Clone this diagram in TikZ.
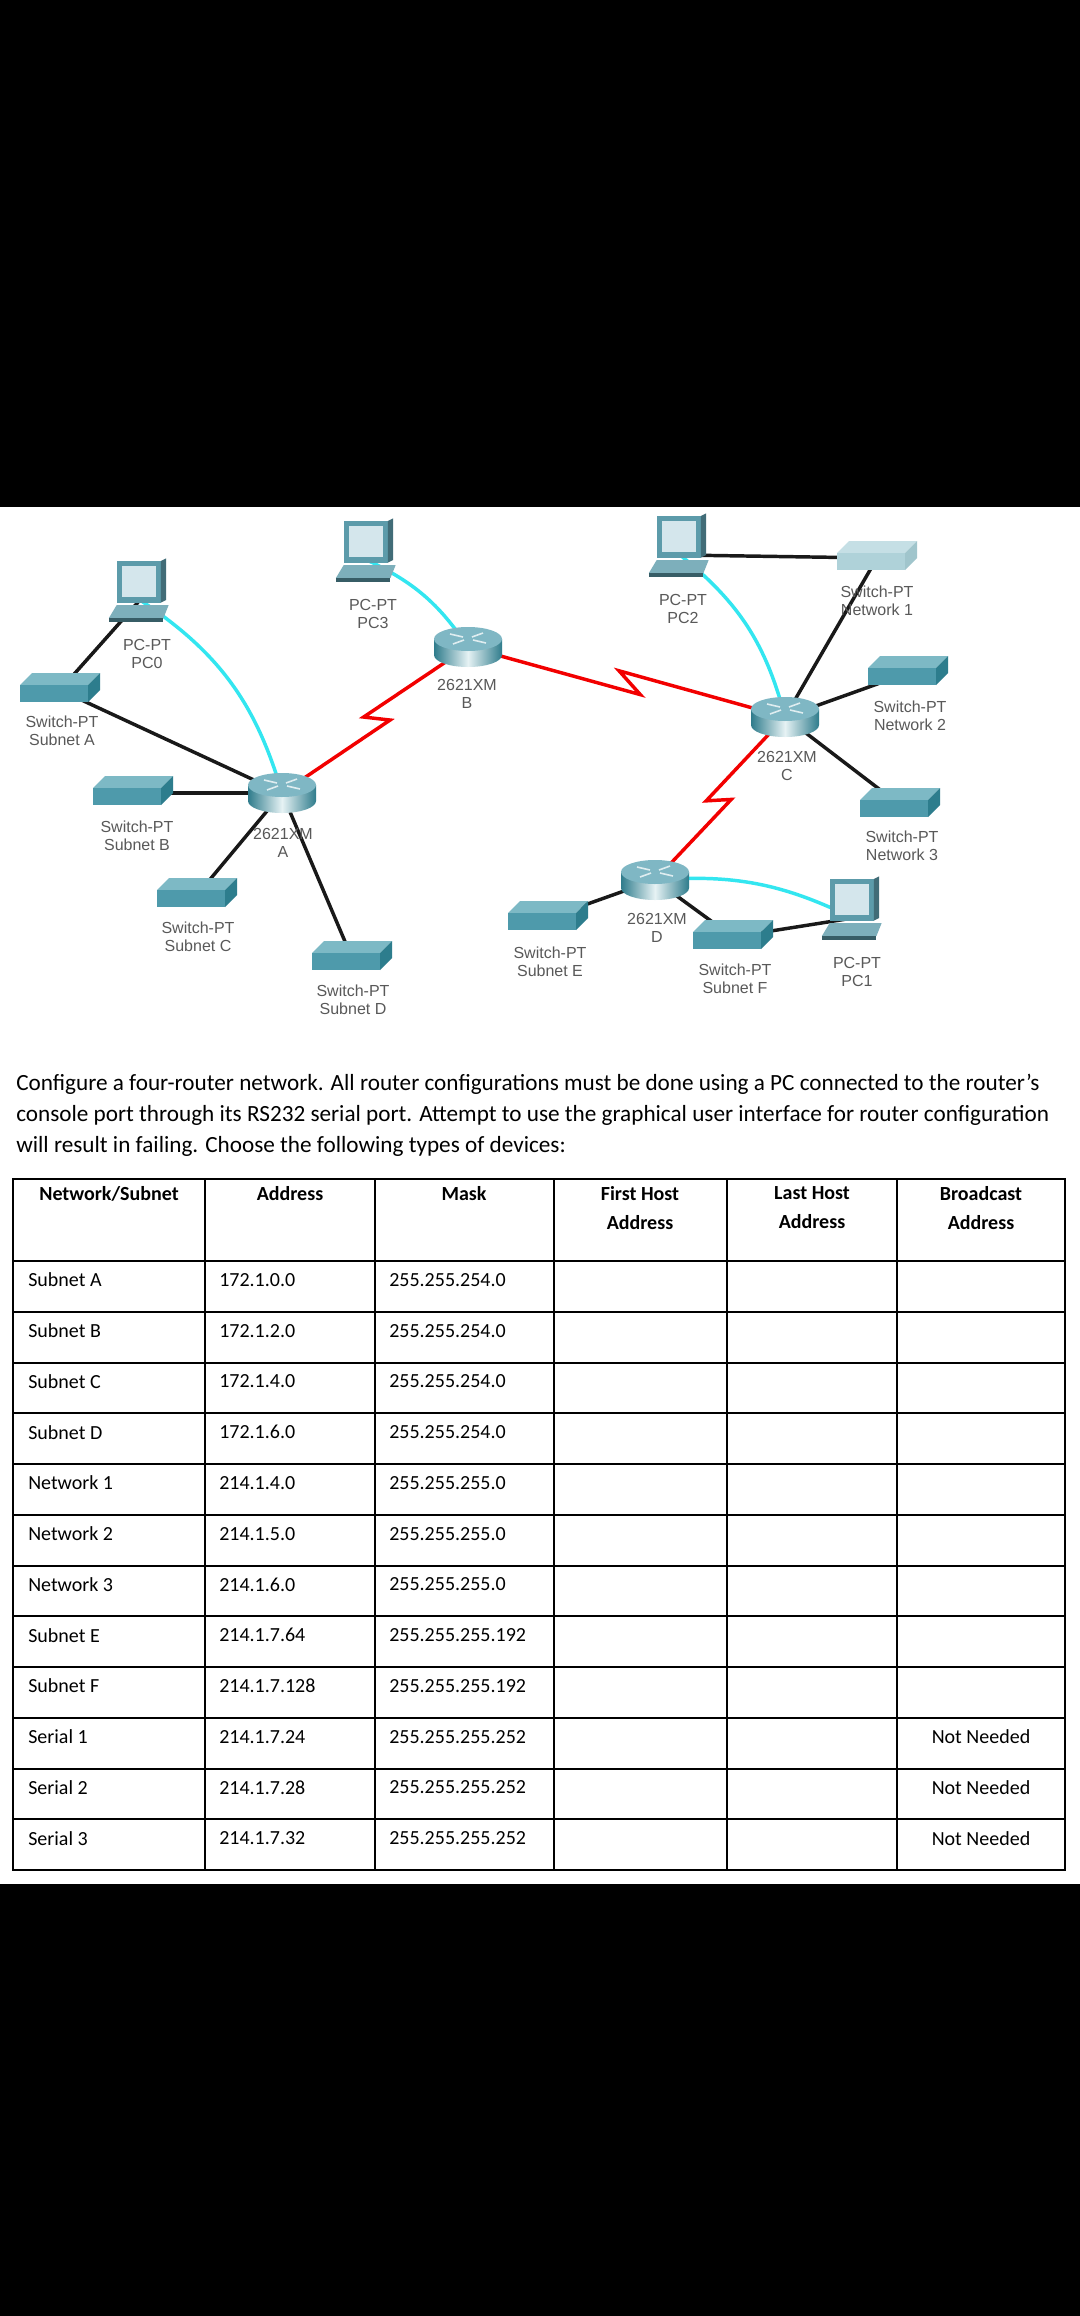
\documentclass[tikz,border=0pt]{standalone}
\usepackage{fontspec}
\setmainfont{Carlito}
\newfontfamily\ptfont{Liberation Sans}
\usetikzlibrary{calc}

\definecolor{rtdark}{HTML}{2F7C8C}
\definecolor{rtlight}{HTML}{E6F2F4}
\definecolor{rttop}{HTML}{7FB7C4}
\definecolor{swfront}{HTML}{4E9AAB}
\definecolor{swtop}{HTML}{7DB9C5}
\definecolor{swside}{HTML}{2D7D8D}
\definecolor{pcbody}{HTML}{5C9BAA}
\definecolor{pcscreen}{HTML}{D4E6EC}
\definecolor{console}{HTML}{33E6F0}

\tikzset{
  dev/.style    = {inner sep=0pt, minimum size=2pt},
  lbl/.style    = {font=\ptfont\fontsize{12}{13.5}\selectfont, text=black!65, align=center, inner sep=0pt},
  eth/.style    = {line width=2.6pt, black!90},
  cons/.style   = {line width=2.6pt, console},
  serial/.style = {line width=2.6pt, red!95!black, line join=miter},
  cell/.style   = {font=\fontsize{15}{18}\selectfont, inner sep=0pt},
  head/.style   = {font=\bfseries\fontsize{15}{22}\selectfont, align=center, inner sep=0pt, anchor=north},
  pics/router/.style = {code={
    \begin{scope}[yscale=-1]
    \shade[left color=rtdark, right color=rtdark, middle color=rtlight]
      (-34,8) -- (-34,-8) arc[start angle=180, end angle=360, x radius=34, y radius=12] -- (34,8) -- cycle;
    \fill[rttop] (0,8) ellipse[x radius=34, y radius=12];
    \draw[white!75!rttop, line width=1.2pt] (-18,13) -- (-5,10) (18,4) -- (5,7) (-15,3) -- (-4,7) (15,14) -- (4,10);
    \end{scope}}},
  pics/switch/.style = {code={
    \begin{scope}[yscale=-1]
    \fill[swtop!#1] (-40,5) -- (-28,17) -- (40,17) -- (28,5) -- cycle;
    \fill[swfront!#1] (-40,5) rectangle (28,-12);
    \fill[swside!#1] (28,5) -- (40,17) -- (40,0) -- (28,-12) -- cycle;
    \end{scope}}},
  pics/switch/.default = 100,
  pics/pc/.style = {code={
    \begin{scope}[yscale=-1.3, xscale=1.3]
    \fill[pcbody] (-18,-2) rectangle (16,30);
    \fill[pcbody!70!black] (16,30) -- (20,32) -- (20,0) -- (16,-2) -- cycle;
    \fill[pcscreen] (-14,2) rectangle (12,26);
    \fill[pcbody!80] (-24,-14) -- (-18,-4) -- (22,-4) -- (18,-14) -- cycle;
    \fill[pcbody!60!black] (-24,-14) rectangle (18,-17);
    \end{scope}}}
}

\begin{document}
\begin{tikzpicture}[x=0.75pt, y=-0.75pt]
\useasboundingbox (0,0) rectangle (1080,2316);
\fill[black] (0,0) rectangle (1080,2316);
\fill[white] (0,507) rectangle (1080,1884);

% devices
\node[dev] (pc0) at (140,600) {};
\node[dev] (pc3) at (367,560) {};
\node[dev] (pc2) at (680,555) {};
\node[dev] (pc1) at (853,918) {};
\node[dev] (rA) at (282,793) {};
\node[dev] (rB) at (468,647) {};
\node[dev] (rC) at (785,717) {};
\node[dev] (rD) at (655,880) {};
\node[dev] (swA) at (60,690) {};
\node[dev] (swB) at (133,793) {};
\node[dev] (swC) at (197,895) {};
\node[dev] (swD) at (352,958) {};
\node[dev] (swE) at (548,918) {};
\node[dev] (swF) at (733,937) {};
\node[dev] (net1) at (877,558) {};
\node[dev] (net2) at (908,673) {};
\node[dev] (net3) at (900,805) {};

% links
\foreach \a/\b in {pc0/swA, swA/rA, swB/rA, swC/rA, swD/rA, pc2/net1, net1/rC, net2/rC, net3/rC, swE/rD, swF/rD, swF/pc1}
  \draw[eth] (\a) -- (\b);

\draw[cons] (pc0) to[bend left=20] (rA);
\draw[cons] (pc3) to[bend left=15] (rB);
\draw[cons] (pc2) to[bend left=18] (rC);
\draw[cons] (rD) to[bend left=15] (pc1);

\foreach \a/\b in {rA/rB, rB/rC, rC/rD}
  \draw[serial] (\a) -- ($(\a)!0.55!(\b)!7pt!-90:(\b)$) -- ($(\a)!0.47!(\b)!7pt!90:(\b)$) -- (\b);

% icons
\foreach \n in {pc0, pc1, pc2, pc3}
  \pic at (\n) {pc};
\foreach \n in {rA, rB, rC, rD}
  \pic at (\n) {router};
\foreach \n in {swA, swB, swC, swD, swE, swF, net2, net3}
  \pic at (\n) {switch};
\pic at (net1) {switch=45};

% device labels
\node[lbl] (lpc0) at (147,654) {PC-PT\\PC0};
\node[lbl] (lpc3) at (373,614) {PC-PT\\PC3};
\node[lbl] (lpc2) at (683,609) {PC-PT\\PC2};
\node[lbl] (lpc1) at (857,972) {PC-PT\\PC1};
\node[lbl] (lrA) at (283,843) {2621XM\\A};
\node[lbl] (lrB) at (467,694) {2621XM\\B};
\node[lbl] (lrC) at (787,766) {2621XM\\C};
\node[lbl] (lrD) at (657,928) {2621XM\\D};
\node[lbl] (lswA) at (62,731) {Switch-PT\\Subnet A};
\node[lbl] (lswB) at (137,836) {Switch-PT\\Subnet B};
\node[lbl] (lswC) at (198,937) {Switch-PT\\Subnet C};
\node[lbl] (lswD) at (353,1000) {Switch-PT\\Subnet D};
\node[lbl] (lswE) at (550,962) {Switch-PT\\Subnet E};
\node[lbl] (lswF) at (735,979) {Switch-PT\\Subnet F};
\node[lbl] (lnet1) at (877,601) {Switch-PT\\Network 1};
\node[lbl] (lnet2) at (910,716) {Switch-PT\\Network 2};
\node[lbl] (lnet3) at (902,846) {Switch-PT\\Network 3};

% paragraph
\begin{scope}[every node/.style={cell, anchor=west, font=\fontsize{17.4}{20}\selectfont}]
\node (par1) at (16,1084) {Configure a four-router network. All router configurations must be done using a PC connected to the router’s};
\node (par2) at (16,1115) {console port through its RS232 serial port. Attempt to use the graphical user interface for router configuration};
\node (par3) at (16,1146) {will result in failing. Choose the following types of devices:};
\end{scope}

% table
\draw[line width=1.5pt] (13,1179) rectangle (1065,1870);
\foreach \x in {205,375,554,727,897}
  \draw[line width=1.5pt] (\x,1179) -- (\x,1870);
\foreach \i in {0,...,11}
  \draw[line width=1.5pt] (13,1261+\i*50.75) -- (1065,1261+\i*50.75);

\node[head] (h1) at (109,1186) {Network/Subnet};
\node[head] (h2) at (290,1186) {Address};
\node[head] (h3) at (464,1186) {Mask};
\node[head] (h4) at (640,1186) {First Host\\Address};
\node[head] (h5) at (812,1186) {Last Host\\Address};
\node[head] (h6) at (981,1186) {Broadcast\\Address};

\foreach \nm/\ad/\mk/\bc [count=\i from 0] in {
  Subnet A/172.1.0.0/255.255.254.0/,
  Subnet B/172.1.2.0/255.255.254.0/,
  Subnet C/172.1.4.0/255.255.254.0/,
  Subnet D/172.1.6.0/255.255.254.0/,
  Network 1/214.1.4.0/255.255.255.0/,
  Network 2/214.1.5.0/255.255.255.0/,
  Network 3/214.1.6.0/255.255.255.0/,
  Subnet E/214.1.7.64/255.255.255.192/,
  Subnet F/214.1.7.128/255.255.255.192/,
  Serial 1/214.1.7.24/255.255.255.252/Not Needed,
  Serial 2/214.1.7.28/255.255.255.252/Not Needed,
  Serial 3/214.1.7.32/255.255.255.252/Not Needed}
{
  \node[cell, anchor=west] (nm\i) at (28,1280+\i*50.75) {\nm};
  \node[cell, anchor=west] (ad\i) at (219,1280+\i*50.75) {\ad};
  \node[cell, anchor=west] (mk\i) at (389,1280+\i*50.75) {\mk};
  \node[cell] (bc\i) at (981,1280+\i*50.75) {\bc};
}
\end{tikzpicture}
\end{document}
